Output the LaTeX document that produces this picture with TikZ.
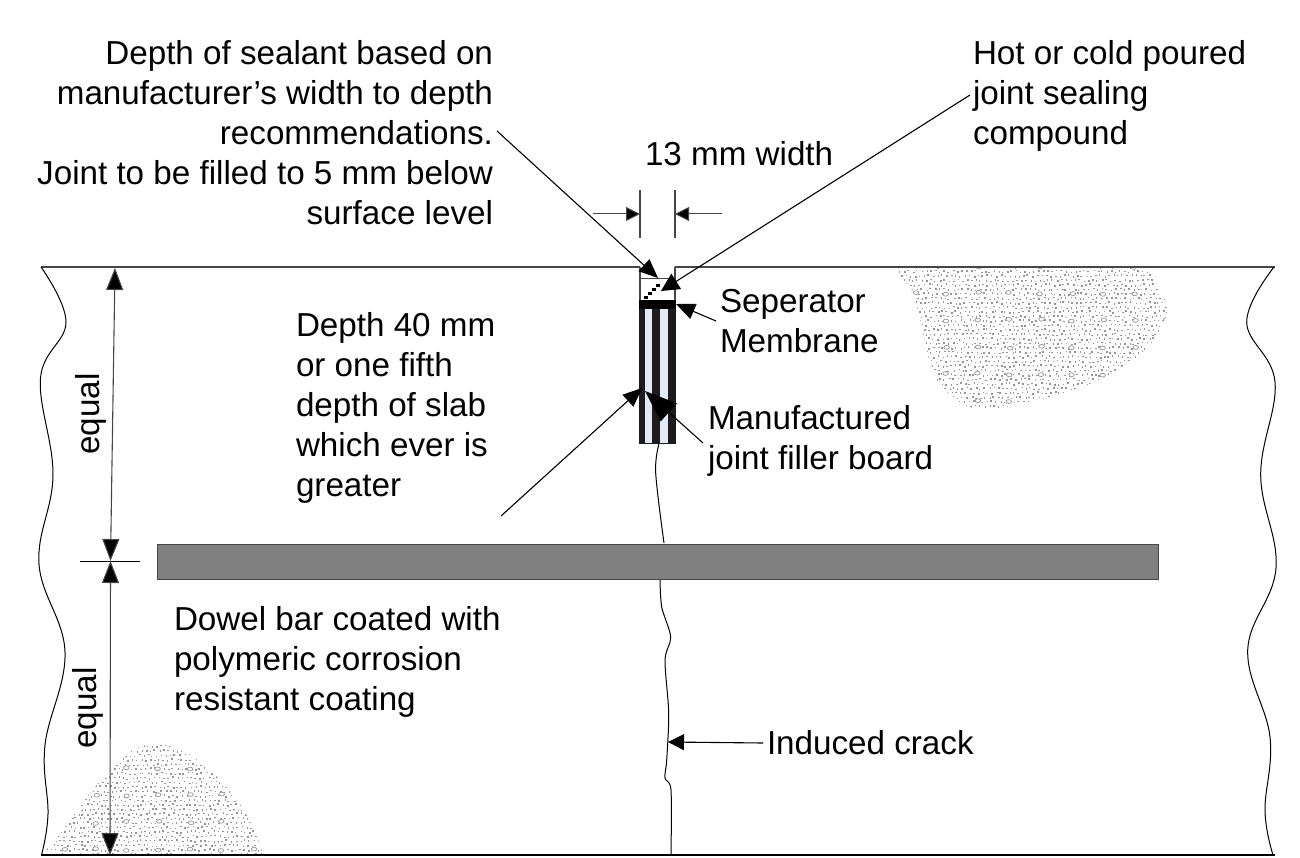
\documentclass[tikz,border=0pt]{standalone}
\usepackage{fontspec}
\setmainfont{Liberation Sans}
\usetikzlibrary{arrows.meta}
\definecolor{linegrey}{RGB}{70,70,70}
\definecolor{barfill}{RGB}{128,128,128}
\definecolor{paleblue}{RGB}{226,234,248}
\definecolor{stripe}{RGB}{28,28,28}
\definecolor{dotgrey}{RGB}{150,150,150}
\tikzset{
  lbl/.style={font=\fontsize{33.2}{40}\selectfont,inner sep=0pt,outer sep=0pt},
  lblr/.style={lbl,align=right,anchor=north east},
  lbll/.style={lbl,align=left,anchor=north west},
  outline/.style={draw=linegrey,line width=1.1pt},
  wave/.style={draw=black,line width=1pt},
  smallleader/.style={draw=black,line width=1.1pt,-{Triangle[length=19pt,width=16pt,fill=black]}},
  dim/.style={draw=linegrey,line width=1.1pt,{Triangle[length=22pt,width=17pt,fill=black]}-{Triangle[length=22pt,width=17pt,fill=black]}},
  wdim/.style={draw=linegrey,line width=1pt,-{Triangle[length=14pt,width=14pt,fill=black]}}
}
\newcommand{\stipple}[4]{%
  \pgfmathsetseed{#4}
  \foreach \gx in {#1,...,#2}{
    \foreach \gy in {0,...,#3}{
      \pgfmathsetmacro{\dx}{\gx*4.5+2.2*mod(\gy,2)+rnd*2.5}
      \pgfmathsetmacro{\dy}{\gy*4.5+rnd*2.5+\stippletop}
      \fill[dotgrey] (\dx,\dy) rectangle +(1.5,1.5);
      \pgfmathtruncatemacro{\big}{(mod(\gx,7)==0 && mod(\gy,6)==0) ? 1 : 0}
      \ifnum\big=1
        \draw[dotgrey,line width=.7pt,fill=white] (\dx,\dy) circle (2.8 and 1.9);
      \fi
    }
  }
}
\begin{document}
\begin{tikzpicture}[x=1pt,y=-1pt]
\useasboundingbox (0,0) rectangle (1300,858);
% stipple patches
\begin{scope}
\clip plot[smooth cycle,tension=.6] coordinates {(900,268) (913,292) (923,332) (933,372) (950,395) (973,408) (1000,408) (1057,395) (1103,378) (1147,348) (1167,312) (1157,288) (1133,268) (1000,267)};
\def\stippletop{265}
\stipple{199}{260}{32}{11}
\end{scope}
\begin{scope}
\clip plot[smooth,tension=.6] coordinates {(42,855) (63,830) (87,797) (113,767) (133,750) (157,744) (187,753) (213,773) (237,800) (253,827) (263,855)} -- cycle;
\def\stippletop{740}
\stipple{8}{59}{26}{23}
\end{scope}
% slab
\coordinate (tl) at (41,267);
\coordinate (tr) at (1275,267);
\coordinate (bl) at (41,855);
\coordinate (br) at (1275,855);
\coordinate (jl) at (640,267);
\coordinate (jr) at (675,267);
\draw[outline] (tl) -- (jl);
\draw[outline] (jr) -- (tr);
\draw[draw=black,line width=1.2pt] (bl) -- (br);
\draw[wave] plot[smooth,tension=.65] coordinates {(41,267) (66,322) (40.5,378) (53,475) (39,564) (65,652) (45,745) (48,814) (41.5,855)};
\draw[wave] plot[smooth,tension=.65] coordinates {(1274,267) (1246.7,322) (1275,382) (1260.7,475) (1276,568) (1247.7,650) (1270,737) (1265,811) (1273,855)};
% joint
\draw[outline] (jl) -- (640,302);
\draw[outline] (jr) -- (675,302);
\draw[outline,line width=.9pt] (640,278) -- (675,278);
\fill[black] (639,300) rectangle (676,309);
\fill[paleblue] (640,309) rectangle (675,443);
\foreach \a/\b in {639/645,652/660,668/676}{
  \fill[stripe] (\a,309) rectangle (\b,444);
}
\draw[stripe,line width=1pt] (639,443.5) -- (676,443.5);
\foreach \px/\py in {644/296,648/292,652/288,656/284}{
  \fill[black] (\px,\py) rectangle +(3.5,3.5);
}
% crack
\draw[wave] plot[smooth,tension=.6] coordinates {(659,444) (655.7,473) (664,543)};
\draw[wave] plot[smooth,tension=.5] coordinates {(660,579) (661.7,607) (670.7,637) (665,660) (668.7,713) (666.7,760) (665,778) (671,790) (671,855)};
% dowel
\node[draw=linegrey,fill=barfill,line width=1pt,minimum width=1001pt,minimum height=35pt,inner sep=0pt,anchor=north west] (dowel) at (157,544) {};
% dimension marks
\coordinate (wl) at (640,190);
\coordinate (wr) at (675,190);
\draw[outline] (wl) -- (640,238);
\draw[outline] (wr) -- (675,238);
\coordinate (wla) at (593,214);
\coordinate (wra) at (722,214);
\coordinate (wlb) at (640,214);
\coordinate (wrb) at (675,214);
\draw[wdim] (wla) -- (wlb);
\draw[wdim] (wra) -- (wrb);
\coordinate (eqtop) at (115,268);
\coordinate (eqmid) at (110.5,561);
\coordinate (eqbot) at (110,855);
\draw[draw=black,line width=1pt] (80,561) -- (140,561);
\draw[dim] (eqtop) -- (eqmid);
\draw[dim] (eqmid) -- (eqbot);
% leaders
\coordinate (a1s) at (497,131);
\coordinate (a1e) at (658,278);
\draw[smallleader] (a1s) -- (a1e);
\coordinate (a2s) at (970,95);
\coordinate (a2e) at (661,291);
\draw[draw=black,line width=1.1pt,-{Triangle[length=18pt,width=18pt,fill=black]}] (a2s) -- (a2e);
\coordinate (a3s) at (716,321);
\coordinate (a3e) at (676,304);
\draw[smallleader] (a3s) -- (a3e);
\coordinate (a4s) at (703,443);
\coordinate (a4e) at (645,391);
\draw[draw=black,line width=1.1pt,-{Triangle[length=32pt,width=24pt,fill=black]}] (a4s) -- (a4e);
\coordinate (a5s) at (501,516);
\coordinate (a5e) at (642,388);
\draw[smallleader] (a5s) -- (a5e);
\coordinate (a6s) at (763,743);
\coordinate (a6e) at (668,742);
\draw[draw=black,line width=1.1pt,-{Triangle[length=16pt,width=16pt,fill=black]}] (a6s) -- (a6e);
% labels
\node[lblr] (t1) at (493,40) {Depth of sealant based on\\manufacturer’s width to depth\\recommendations.\\Joint to be filled to 5 mm below\\surface level};
\node[lbll] (t2) at (973,40) {Hot or cold poured\\joint sealing\\compound};
\node[lbll] (t3) at (645,141) {13 mm width};
\node[lbll] (t4) at (296,312) {Depth 40 mm\\or one fifth\\depth of slab\\which ever is\\greater};
\node[lbll] (t5) at (720,289) {Seperator\\Membrane};
\node[lbll] (t6) at (708,405) {Manufactured\\joint filler board};
\node[lbll] (t7) at (174,606) {Dowel bar coated with\\polymeric corrosion\\resistant coating};
\node[lbll] (t8) at (767,730) {Induced crack};
\node[lbl,rotate=90] (t9) at (91,414) {equal};
\node[lbl,rotate=90] (t10) at (88,708) {equal};
\end{tikzpicture}
\end{document}
